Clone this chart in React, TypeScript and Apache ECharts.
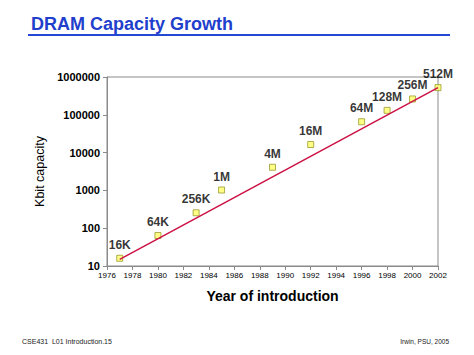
import React, { useEffect, useRef } from "react";
import * as echarts from "echarts";

const years = [1977, 1980, 1983, 1985, 1989, 1992, 1996, 1998, 2000, 2002];
const capacityKbit = [16, 64, 256, 1024, 4096, 16384, 65536, 131072, 262144, 524288];
const chipLabels = ["16K", "64K", "256K", "1M", "4M", "16M", "64M", "128M", "256M", "512M"];
const trendYears = [1977, 2002];
const trendKbit = [15, 524288];

const FONT = "'Liberation Sans', Arial, sans-serif";

export default function App() {
  const ref = useRef<HTMLDivElement>(null);
  useEffect(() => {
    document.body.style.margin = "0";
    const chart = echarts.init(ref.current!, null, { renderer: "svg" });
    chart.setOption({
      animation: false,
      backgroundColor: "#ffffff",
      textStyle: { fontFamily: FONT },
      grid: {
        left: 107,
        right: 36,
        top: 77,
        bottom: 89,
        show: true,
        borderColor: "#8a8a8a",
        borderWidth: 1,
        backgroundColor: "transparent",
      },
      xAxis: {
        type: "value",
        min: 1976,
        max: 2002,
        interval: 2,
        name: "Year of introduction",
        nameLocation: "middle",
        nameGap: 23,
        nameTextStyle: { fontSize: 14, fontWeight: "bold", color: "#000", fontFamily: FONT },
        axisLine: { lineStyle: { color: "#8a8a8a", width: 1 } },
        axisTick: { show: true, length: 4, lineStyle: { color: "#8a8a8a" } },
        axisLabel: {
          fontSize: 8,
          color: "#000",
          margin: 5,
          fontFamily: FONT,
          formatter: (v: number) => String(Math.round(v)),
        },
        splitLine: { show: false },
      },
      yAxis: {
        type: "log",
        logBase: 10,
        min: 10,
        max: 1000000,
        name: "Kbit capacity",
        nameLocation: "middle",
        nameGap: 58,
        nameRotate: 90,
        nameTextStyle: { fontSize: 12.5, color: "#000", fontFamily: FONT },
        axisLine: { show: true, lineStyle: { color: "#8a8a8a", width: 1 } },
        axisTick: { show: true, length: 4, lineStyle: { color: "#8a8a8a" } },
        axisLabel: {
          fontSize: 11,
          fontWeight: "bold",
          color: "#000",
          margin: 7,
          fontFamily: FONT,
          formatter: (v: number) => String(Math.round(v)),
        },
        splitLine: { show: false },
      },
      series: [
        {
          type: "scatter",
          symbol: "rect",
          symbolSize: 6,
          z: 2,
          data: years.map((y, i) => [y, capacityKbit[i]]),
          itemStyle: { color: "#ffff66", borderColor: "#9a9a30", borderWidth: 1 },
          label: {
            show: true,
            position: "top",
            distance: 4,
            fontSize: 12,
            fontWeight: "bold",
            color: "#000",
            fontFamily: FONT,
            formatter: (p: any) => chipLabels[p.dataIndex],
          },
        },
        {
          type: "line",
          symbol: "none",
          z: 3,
          data: trendYears.map((y, i) => [y, trendKbit[i]]),
          lineStyle: { color: "#cc1144", width: 1.5 },
        },
      ],
      graphic: [
        {
          type: "text",
          left: 31,
          top: 15,
          style: { text: "DRAM Capacity Growth", fontSize: 18, fontWeight: "bold", fill: "#1f3fcc", fontFamily: FONT },
        },
        {
          type: "rect",
          shape: { x: 28, y: 34, width: 422, height: 2 },
          style: { fill: "#2448d4" },
        },
        {
          type: "text",
          left: 22,
          top: 338,
          style: { text: "CSE431  L01 Introduction.15", fontSize: 7, fill: "#222", fontFamily: FONT },
        },
        {
          type: "text",
          right: 25,
          top: 338,
          style: { text: "Irwin, PSU, 2005", fontSize: 6.5, fill: "#222", fontFamily: FONT },
        },
      ],
    });
    return () => chart.dispose();
  }, []);
  return <div ref={ref} style={{ width: 474, height: 355 }} />;
}
